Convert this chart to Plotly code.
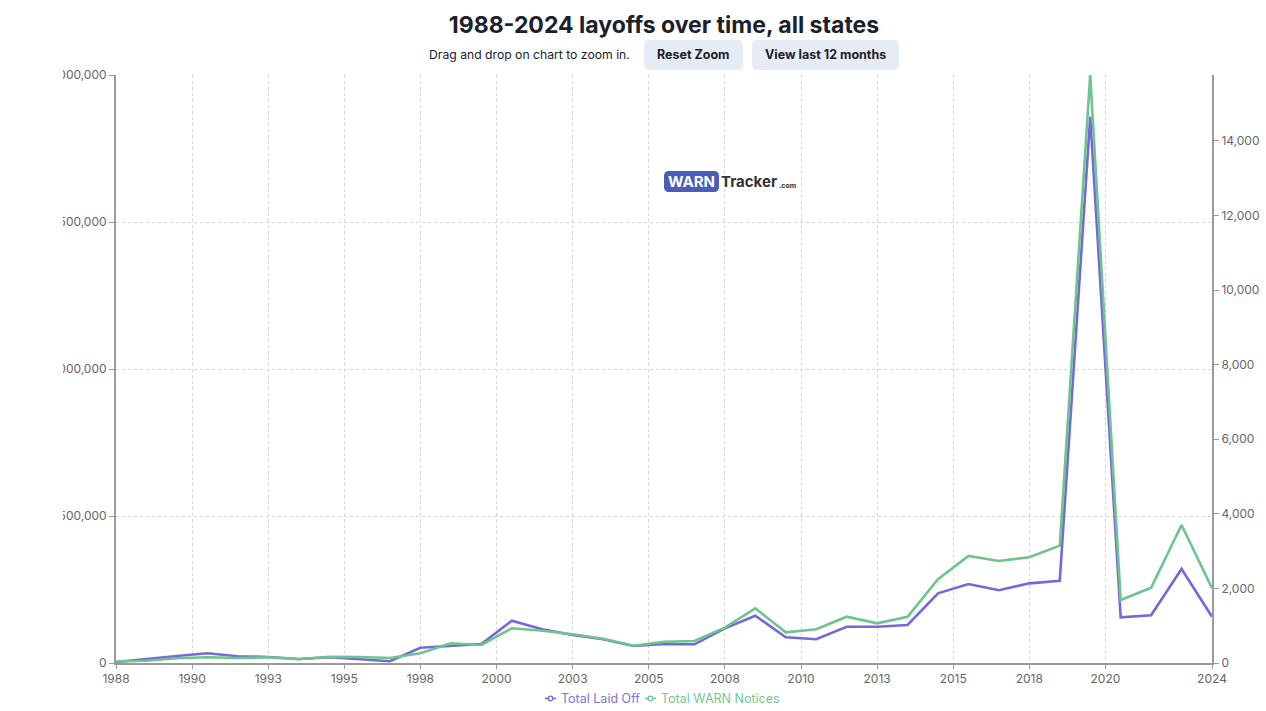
import plotly.graph_objects as go

years = list(range(1988, 2025))
total_laid_off = [3000, 14600, 23800, 33000, 22800, 20400, 13600, 19400, 13600, 5800,
                  52000, 57800, 64600, 143900, 114600, 95200, 80600, 57800, 64600, 63600,
                  118000, 160900, 87400, 80600, 123500, 123500, 129200, 237000, 268700, 247300,
                  271000, 280000, 1858000, 155400, 162200, 319700, 157500]
total_warn_notices = [40, 62, 126, 153, 134, 153, 99, 169, 161, 134,
                      260, 528, 483, 930, 866, 769, 651, 464, 571, 590,
                      946, 1467, 823, 904, 1241, 1064, 1241, 2244, 2869, 2735,
                      2834, 3145, 15765, 1689, 2019, 3700, 2003]
x_tickvals = [1988, 1990.5, 1993, 1995.5, 1998, 2000.5, 2003, 2005.5, 2008, 2010.5,
              2013, 2015.5, 2018, 2020.5, 2024]
x_ticktext = ["1988", "1990", "1993", "1995", "1998", "2000", "2003", "2005", "2008", "2010",
              "2013", "2015", "2018", "2020", "2024"]
left_ticks = [0, 500000, 1000000, 1500000, 2000000]
right_ticks = [0, 2000, 4000, 6000, 8000, 10000, 12000, 14000]
series_names = ["Total Laid Off", "Total WARN Notices"]

PURPLE = "#7568da"
GREEN = "#6ec48c"
W, H = 1266, 711
L, R, T, B = 116, 1212, 75, 663


def px(x):
    return (x - L) / (R - L)


def py(y):
    return (B - y) / (B - T)


def rrect(x0, y0, x1, y1, r):
    X0, X1 = px(x0), px(x1)
    Y0, Y1 = py(y0), py(y1)  # Y0 top (larger), Y1 bottom
    rx = r / (R - L)
    ry = r / (B - T)
    return (f"M{X0+rx},{Y0} L{X1-rx},{Y0} Q{X1},{Y0} {X1},{Y0-ry} "
            f"L{X1},{Y1+ry} Q{X1},{Y1} {X1-rx},{Y1} L{X0+rx},{Y1} "
            f"Q{X0},{Y1} {X0},{Y1+ry} L{X0},{Y0-ry} Q{X0},{Y0} {X0+rx},{Y0} Z")


fig = go.Figure()
fig.add_trace(go.Scatter(x=years, y=total_laid_off, mode="lines", name=series_names[0],
                         line=dict(color=PURPLE, width=2.6), showlegend=False, yaxis="y"))
fig.add_trace(go.Scatter(x=years, y=total_warn_notices, mode="lines", name=series_names[1],
                         line=dict(color=GREEN, width=2.6), showlegend=False, yaxis="y2"))

tickfont = dict(family="Inter, Roboto, sans-serif", size=12, color="#666666")
shapes = []
annotations = []
# clip the left tick labels like the reference
shapes.append(dict(type="rect", xref="paper", yref="paper", x0=px(-5), x1=px(63),
                   y0=py(700), y1=py(60), fillcolor="white", line=dict(width=0), layer="above"))
# buttons
shapes.append(dict(type="path", xref="paper", yref="paper", path=rrect(644, 40, 743, 70, 5),
                   fillcolor="#e6ecf4", line=dict(width=0), layer="above"))
shapes.append(dict(type="path", xref="paper", yref="paper", path=rrect(752, 40, 899, 70, 5),
                   fillcolor="#e6ecf4", line=dict(width=0), layer="above"))
# logo box
shapes.append(dict(type="path", xref="paper", yref="paper", path=rrect(664, 171, 719, 192, 5),
                   fillcolor="#4c5db7", line=dict(width=0), layer="above"))

# custom legend (small line+circle symbols, coloured text)
legend_items = [(545, series_names[0], PURPLE, "#7f74d8"),
                (645, series_names[1], GREEN, "#74c790")]
LY = 698.5
for x0, name, col, tcol in legend_items:
    shapes.append(dict(type="line", xref="paper", yref="paper", x0=px(x0), x1=px(x0 + 11),
                       y0=py(LY), y1=py(LY), line=dict(color=col, width=1.5), layer="above"))
    shapes.append(dict(type="circle", xref="paper", yref="paper", x0=px(x0 + 3.2), x1=px(x0 + 7.8),
                       y0=py(LY + 2.3), y1=py(LY - 2.3), fillcolor="white",
                       line=dict(color=col, width=1.3), layer="above"))
    annotations.append(dict(text=name, xref="paper", yref="paper", x=px(x0 + 14), y=py(LY),
                            xanchor="left", yanchor="middle", showarrow=False,
                            font=dict(family="Inter, sans-serif", size=12.5, color=tcol)))

annotations.append(dict(text="Drag and drop on chart to zoom in.", xref="paper", yref="paper",
                        x=px(632), y=py(55), xanchor="right", yanchor="middle", showarrow=False,
                        font=dict(family="Inter, sans-serif", size=12.2, color="#1a202c")))
annotations.append(dict(text="<b>Reset Zoom</b>", xref="paper", yref="paper",
                        x=px(693.5), y=py(55), xanchor="center", yanchor="middle", showarrow=False,
                        font=dict(family="Inter, sans-serif", size=12.5, color="#1a202c")))
annotations.append(dict(text="<b>View last 12 months</b>", xref="paper", yref="paper",
                        x=px(825.5), y=py(55), xanchor="center", yanchor="middle", showarrow=False,
                        font=dict(family="Inter, sans-serif", size=12.5, color="#1a202c")))
annotations.append(dict(text="<b>WARN</b>", xref="paper", yref="paper",
                        x=px(691.5), y=py(181.5), xanchor="center", yanchor="middle", showarrow=False,
                        font=dict(family="Inter, sans-serif", size=15, color="white")))
annotations.append(dict(text="<b>Tracker</b>", xref="paper", yref="paper",
                        x=px(719), y=py(181.5), xanchor="left", yanchor="middle", showarrow=False,
                        font=dict(family="Inter, sans-serif", size=15, color="#333333")))
annotations.append(dict(text="<b>.com</b>", xref="paper", yref="paper",
                        x=px(777), y=py(185), xanchor="left", yanchor="middle", showarrow=False,
                        font=dict(family="Inter, sans-serif", size=7, color="#333333")))

fig.update_layout(
    width=W, height=H,
    margin=dict(l=L, r=W - R, t=T, b=H - B, pad=0, autoexpand=False),
    paper_bgcolor="white", plot_bgcolor="white",
    title=dict(text="<b>1988-2024 layoffs over time, all states</b>", x=0.5, xanchor="center",
               y=1 - 25 / H, yanchor="middle", xref="paper",
               font=dict(family="Inter, sans-serif", size=23, color="#1a202c")),
    xaxis=dict(range=[1988, 2024], tickvals=x_tickvals, ticktext=x_ticktext,
               showgrid=True, gridcolor="#d6d6d6", griddash="3px,3px", gridwidth=1,
               showline=True, linecolor="#9a9a9a", linewidth=2, ticks="outside", ticklen=4,
               tickcolor="#9a9a9a", tickfont=tickfont, zeroline=False, automargin=False),
    yaxis=dict(range=[0, 2000000], tickvals=left_ticks, tickformat=",",
               showgrid=True, gridcolor="#d6d6d6", griddash="3px,3px", gridwidth=1,
               showline=True, linecolor="#9a9a9a", linewidth=2, ticks="outside", ticklen=5,
               tickcolor="#9a9a9a", tickfont=tickfont, zeroline=False, automargin=False),
    yaxis2=dict(range=[0, max(total_warn_notices)], tickvals=right_ticks, tickformat=",",
                overlaying="y", side="right", showgrid=False,
                showline=True, linecolor="#9a9a9a", linewidth=2, ticks="outside", ticklen=5,
                tickcolor="#9a9a9a", tickfont=tickfont, zeroline=False, automargin=False),
    shapes=shapes, annotations=annotations,
    showlegend=False,
)

fig.write_html("out.html")
